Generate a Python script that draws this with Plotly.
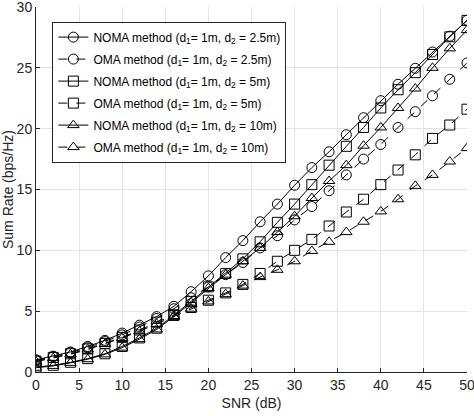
import plotly.graph_objects as go

snr = list(range(0, 51, 2))

noma_25 = [1.0, 1.3, 1.65, 2.1, 2.6, 3.2, 3.85, 4.55, 5.4, 6.6, 7.9, 9.4, 10.8, 12.35,
           13.8, 15.35, 16.8, 18.1, 19.5, 20.9, 22.3, 23.65, 24.96, 26.3, 27.6, 28.9]
oma_25 = [0.95, 1.25, 1.6, 2.0, 2.5, 3.05, 3.7, 4.4, 5.2, 6.1, 7.0, 8.0, 9.0, 10.2,
          11.2, 12.5, 13.6, 14.9, 16.2, 17.5, 18.7, 20.1, 21.4, 22.7, 24.06, 25.4]
noma_5 = [0.4, 0.55, 0.8, 1.1, 1.5, 2.1, 2.8, 3.6, 4.65, 5.8, 7.0, 8.1, 9.3, 10.7,
          12.3, 13.8, 15.4, 17.0, 18.55, 20.1, 21.7, 23.2, 24.6, 26.1, 27.55, 28.9]
oma_5 = [0.9, 1.2, 1.5, 1.9, 2.35, 2.85, 3.45, 4.1, 4.7, 5.3, 5.9, 6.5, 7.2, 8.1,
         9.1, 10.0, 10.9, 12.0, 13.15, 14.2, 15.4, 16.6, 17.85, 19.2, 20.3, 21.6]
noma_10 = [0.35, 0.5, 0.75, 1.05, 1.45, 2.0, 2.7, 3.5, 4.55, 5.7, 6.9, 8.0, 9.1, 10.2,
           11.5, 12.8, 14.3, 15.7, 17.0, 18.6, 20.1, 21.7, 23.3, 25.0, 26.6, 28.1]
oma_10 = [0.85, 1.15, 1.45, 1.85, 2.3, 2.8, 3.35, 3.95, 4.6, 5.2, 5.8, 6.4, 7.1, 7.8,
          8.4, 9.1, 9.95, 10.7, 11.5, 12.35, 13.2, 14.2, 15.3, 16.2, 17.3, 18.4]

names = [
    "NOMA method (d<sub>1</sub>= 1m, d<sub>2</sub> = 2.5m)",
    "OMA method (d<sub>1</sub>= 1m, d<sub>2</sub> = 2.5m)",
    "NOMA method (d<sub>1</sub>= 1m, d<sub>2</sub> = 5m)",
    "OMA method (d<sub>1</sub>= 1m, d<sub>2</sub> = 5m)",
    "NOMA method (d<sub>1</sub>= 1m, d<sub>2</sub> = 10m)",
    "OMA method (d<sub>1</sub>= 1m, d<sub>2</sub> = 10m)",
]
series = [noma_25, oma_25, noma_5, oma_5, noma_10, oma_10]
symbols = ["circle-open", "circle-open", "square-open", "square-open",
           "triangle-up-open", "triangle-up-open"]
dashes = ["solid", "dash", "solid", "dash", "solid", "dash"]

fig = go.Figure()
for i, (nm, ys, sym, ds) in enumerate(zip(names, series, symbols, dashes)):
    fig.add_trace(go.Scatter(
        x=snr, y=ys, name=nm, mode="lines+markers", legendgroup=f"g{i}",
        line=dict(color="black", width=1, dash=ds),
        marker=dict(symbol=sym, size=10, color="black", line=dict(width=1, color="black")),
    ))

axis_common = dict(
    showgrid=True, gridcolor="#e3e3e3", gridwidth=1,
    showline=True, linecolor="#262626", linewidth=1,
    ticks="inside", ticklen=4, tickcolor="#262626",
    zeroline=False, mirror=False, ticklabeloverflow="allow", automargin=False,
    tickfont=dict(family="Liberation Sans, Arial", size=14, color="#262626"),
)

fig.update_layout(
    width=474, height=416,
    margin=dict(l=36, r=7, t=7, b=44, autoexpand=False),
    paper_bgcolor="white", plot_bgcolor="white",
    font=dict(family="Liberation Sans, Arial", color="#262626"),
    xaxis=dict(range=[0, 50], dtick=5, tick0=0,
               title=dict(text="SNR (dB)", font=dict(size=14), standoff=6),
               **axis_common),
    yaxis=dict(range=[0, 30], dtick=5, tick0=0,
               title=dict(text="Sum Rate (bps/Hz)", font=dict(size=14), standoff=4),
               **axis_common),
    legend=dict(
        x=0.038, y=0.96, xanchor="left", yanchor="top",
        bgcolor="white", bordercolor="#262626", borderwidth=1,
        font=dict(family="Liberation Sans, Arial", size=12, color="black"),
        tracegroupgap=3, itemwidth=30,
    ),
    showlegend=True,
)

fig.write_html("out.html", config={"displayModeBar": False},
               post_script="document.body.style.margin='0';")
